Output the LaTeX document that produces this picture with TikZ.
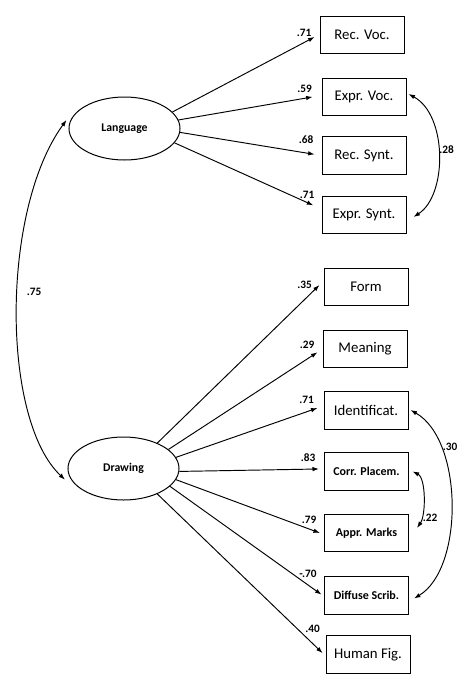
\documentclass[tikz,border=0pt]{standalone}
\usepackage{fontspec}
\setmainfont{Carlito}
\usetikzlibrary{arrows.meta,shapes.geometric}
\tikzset{
  obs/.style={draw,line width=1pt,minimum width=84pt,minimum height=37.5pt,inner sep=0pt,font=\fontsize{14.8}{16}\selectfont},
  obsb/.style={obs,font=\fontsize{12}{14}\bfseries\selectfont},
  lat/.style={draw,ellipse,line width=1pt,minimum width=111pt,minimum height=63pt,inner sep=0pt,font=\fontsize{11.8}{14}\bfseries\selectfont},
  path/.style={line width=0.95pt,-{Latex[length=6.5pt,width=4.5pt]}},
  cov/.style={line width=0.95pt,{Latex[length=6.5pt,width=4.5pt]}-{Latex[length=6.5pt,width=4.5pt]}},
  lab/.style={inner sep=0pt,font=\fontsize{11.3}{13}\bfseries\selectfont}
}
\begin{document}
\begin{tikzpicture}[x=1pt,y=-1pt]
\useasboundingbox[fill=white] (0,0) rectangle (474,694);
% latent variables
\node[lat] (lang) at (124.5,128.5) {Language};
\node[lat] (dr) at (123.5,468.5) {Drawing};
% observed variables
\node[obs] (rv) at (362,35) {Rec. Voc.};
\node[obs] (ev) at (364,97) {Expr. Voc.};
\node[obs] (rs) at (364,155.5) {Rec. Synt.};
\node[obs] (es) at (364,215) {Expr. Synt.};
\node[obs] (fo) at (366,287) {Form};
\node[obs] (me) at (365,349) {Meaning};
\node[obs] (id) at (366,410.5) {Identificat.};
\node[obsb] (cp) at (366.5,471.5) {Corr. Placem.};
\node[obsb] (am) at (366.5,533) {Appr. Marks};
\node[obsb] (ds) at (366.5,595.5) {Diffuse Scrib.};
\node[obs] (hf) at (368,654.5) {Human Fig.};
% loadings Language
\draw[path,shorten >=5.5pt] (lang.19) -- ([yshift=0.6pt]rv.west);
\draw[path,shorten >=9pt] (lang.9) -- ([yshift=1.6pt]ev.west);
\draw[path,shorten >=7pt] (lang.356) -- (rs.west);
\draw[path,shorten >=9pt] (lang.344) -- ([yshift=6pt]es.west);
% loadings Drawing
\draw[path,shorten >=5.6pt] (dr.37) -- ([yshift=5.9pt]fo.west);
\draw[path,shorten >=6pt] (dr.23) -- (me.west);
\draw[path,shorten >=6.4pt] (dr.12) -- ([yshift=4.6pt]id.west);
\draw[path,shorten >=5pt] (dr.357) -- ([yshift=2.6pt]cp.west);
\draw[path,shorten >=4.3pt] (dr.348) -- ([yshift=-1.5pt]am.west);
\draw[path,shorten >=3pt] (dr.339) -- ([yshift=-0.9pt]ds.west);
\draw[path,shorten >=4pt] (dr.323) -- ([yshift=-1.4pt]hf.west);
% covariances
\draw[cov] ([xshift=-4pt]lang.171) .. controls +(-65.7,90) and +(-64,-60) .. ([xshift=-6pt]dr.192);
\draw[cov] ([shift={(2,-3)}]ev.east) .. controls +(39,21) and +(34,-22) .. ([shift={(7,2)}]es.east);
\draw[cov] ([shift={(2,-0.5)}]id.east) .. controls +(53,30) and +(50,-30) .. ([shift={(5,3)}]ds.east);
\draw[cov] ([shift={(3.5,0)}]cp.east) .. controls +(13.5,6.5) and +(9,-13) .. ([shift={(8,-5)}]am.east);
% labels
\node[lab] (l1) at (304,33) {.71};
\node[lab] (l2) at (304.5,88.5) {.59};
\node[lab] (l3) at (306,140) {.68};
\node[lab] (l4) at (307,195) {.71};
\node[lab] (l5) at (304.5,284.5) {.35};
\node[lab] (l6) at (307,344.5) {.29};
\node[lab] (l7) at (306.5,399.5) {.71};
\node[lab] (l8) at (308,458) {.83};
\node[lab] (l9) at (309,520) {.79};
\node[lab] (l10) at (308,573.5) {-.70};
\node[lab] (l11) at (312.5,629) {.40};
\node[lab] (c1) at (446.5,150) {.28};
\node[lab] (c2) at (450,447) {.30};
\node[lab] (c3) at (430,518) {.22};
\node[lab] (c4) at (34,292) {.75};
\end{tikzpicture}
\end{document}
